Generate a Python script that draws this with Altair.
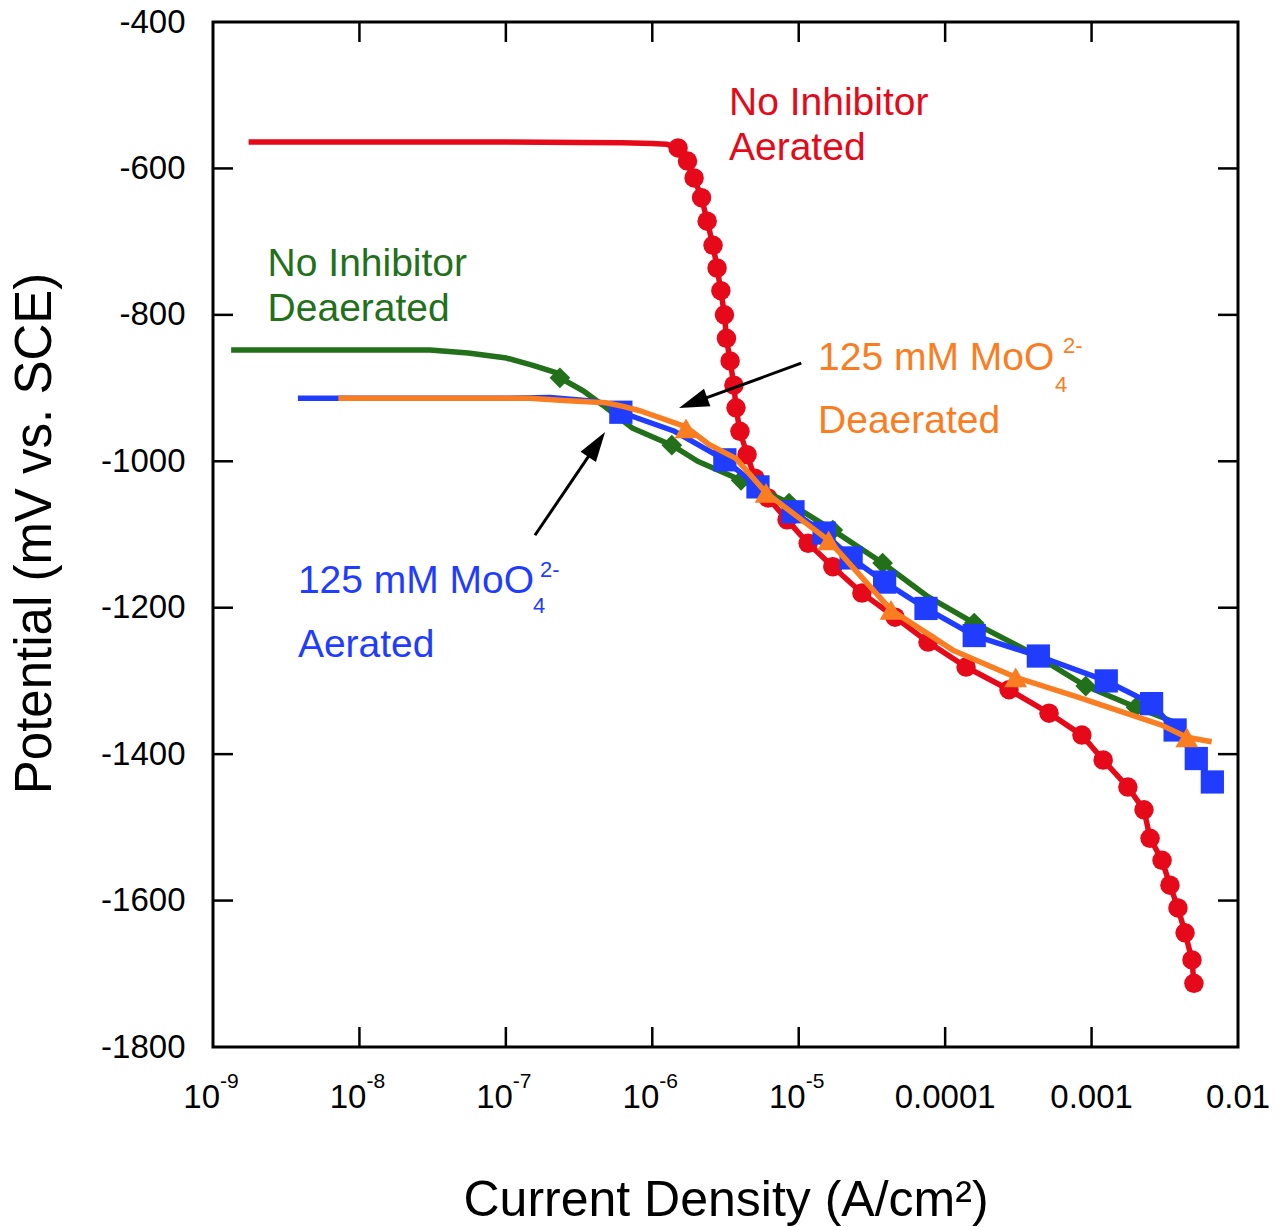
import altair as alt
import pandas as pd

FONT = "Liberation Sans"
RED = "#e5091a"
GREEN = "#22701a"
BLUE = "#1f3cff"
ORANGE = "#fa7d22"

# ---- polarization curves: current density (A/cm^2) vs potential (mV vs SCE) ----
# No inhibitor, aerated
red_i = [1.75e-9, 1.0e-7, 3.16e-7, 6.3e-7, 1.0e-6, 1.26e-6, 1.50e-6, 1.74e-6, 1.93e-6,
         2.17e-6, 2.37e-6, 2.60e-6, 2.77e-6, 2.94e-6, 3.11e-6, 3.21e-6, 3.40e-6, 3.61e-6,
         3.73e-6, 3.97e-6, 4.44e-6, 5.02e-6, 6.17e-6, 8.32e-6, 1.16e-5, 1.71e-5, 2.70e-5,
         4.55e-5, 7.64e-5, 1.39e-4, 2.73e-4, 5.12e-4, 8.59e-4, 1.20e-3, 1.77e-3, 2.28e-3,
         2.51e-3, 3.03e-3, 3.43e-3, 3.89e-3, 4.35e-3, 4.85e-3, 5.0e-3]
red_e = [-564, -564, -564.5, -565, -566, -567, -572, -590, -613,
         -640, -672, -705, -736, -767, -800, -832, -863, -896,
         -927, -959, -991, -1023, -1050, -1080, -1112, -1144, -1180,
         -1213, -1247, -1281, -1312, -1344, -1374, -1408, -1445, -1476,
         -1515, -1545, -1579, -1610, -1644, -1681, -1713]
red_mark_i = red_i[6:]
red_mark_e = red_e[6:]

# No inhibitor, deaerated
green_i = [1.33e-9, 3.03e-8, 5.53e-8, 1.01e-7, 1.53e-7, 2.20e-7, 2.49e-7, 3.39e-7, 4.57e-7,
           7.35e-7, 1.36e-6, 2.04e-6, 4.04e-6, 8.59e-6, 1.71e-5, 3.74e-5, 7.64e-5, 1.58e-4,
           3.92e-4, 9.12e-4, 2.01e-3, 3.55e-3]
green_e = [-848, -848, -852, -859, -869, -879, -889, -904, -923,
           -955, -978, -1000, -1026, -1057, -1094, -1139, -1185, -1221,
           -1262, -1307, -1336, -1355]
green_mark_i = [2.34e-7, 1.36e-6, 4.04e-6, 8.59e-6, 1.71e-5, 3.74e-5, 1.58e-4, 9.12e-4, 2.01e-3]
green_mark_e = [-886, -978, -1026, -1057, -1094, -1139, -1221, -1307, -1336]

# 125 mM molybdate, aerated
blue_i = [3.80e-9, 1.0e-7, 2.0e-7, 3.98e-7, 5.62e-7, 6.10e-7, 1.42e-6, 3.13e-6, 5.27e-6,
          9.14e-6, 1.49e-5, 2.28e-5, 3.86e-5, 7.40e-5, 1.58e-4, 4.33e-4, 1.26e-3, 2.57e-3,
          3.72e-3, 5.19e-3, 6.68e-3, 7.29e-3]
blue_e = [-914, -914, -913, -918, -924, -933, -959, -998, -1035,
          -1069, -1098, -1132, -1165, -1201, -1238, -1266, -1300, -1331,
          -1367, -1406, -1438, -1449]
blue_mark_i = [6.10e-7, 3.13e-6, 5.27e-6, 9.14e-6, 1.49e-5, 2.28e-5, 3.86e-5, 7.40e-5,
               1.58e-4, 4.33e-4, 1.26e-3, 2.57e-3, 3.72e-3, 5.19e-3, 6.68e-3]
blue_mark_e = [-933, -998, -1035, -1069, -1098, -1132, -1165, -1201,
               -1238, -1266, -1300, -1331, -1367, -1406, -1438]

# 125 mM molybdate, deaerated
orange_i = [7.18e-9, 1.45e-7, 2.51e-7, 4.83e-7, 6.31e-7, 8.24e-7, 1.70e-6, 2.44e-6, 3.72e-6,
            5.98e-6, 1.60e-5, 4.27e-5, 1.13e-4, 3.03e-4, 8.07e-4, 2.98e-3, 4.47e-3, 6.61e-3]
orange_e = [-914, -914, -917, -920, -925, -931, -953, -977, -996,
            -1043, -1108, -1203, -1258, -1295, -1322, -1360, -1377, -1383]
orange_mark_i = [1.70e-6, 5.98e-6, 1.60e-5, 4.27e-5, 3.03e-4, 4.47e-3]
orange_mark_e = [-955, -1043, -1108, -1203, -1295, -1377]

# ---- axis ticks ----
y_ticks = [-400, -600, -800, -1000, -1200, -1400, -1600, -1800]
y_inner_ticks = [-600, -800, -1000, -1200, -1400, -1600]
x_ticks = [1e-9, 1e-8, 1e-7, 1e-6, 1e-5, 1e-4, 1e-3, 1e-2]
x_inner_ticks = [1e-8, 1e-7, 1e-6, 1e-5, 1e-4, 1e-3]
x_pow_base = ["10", "10", "10", "10", "10"]
x_pow_exp = ["-9", "-8", "-7", "-6", "-5"]
x_dec_labels = ["0.0001", "0.001", "0.01"]

# ---- annotations ----
label_text = ["No Inhibitor", "Aerated", "No Inhibitor", "Deaerated",
              "125 mM MoO", "Deaerated", "125 mM MoO", "Aerated"]
label_i = [3.34e-6, 3.34e-6, 2.36e-9, 2.36e-9, 1.355e-5, 1.355e-5, 3.80e-9, 3.80e-9]
label_e = [-527, -589, -747, -808, -875, -961, -1180, -1267]
label_color = [RED, RED, GREEN, GREEN, ORANGE, ORANGE, BLUE, BLUE]

script_text = ["4", "2-", "4", "2-"]
script_i = [5.62e-4, 6.38e-4, 1.53e-7, 1.71e-7]
script_e = [-905, -852, -1207, -1158]
script_color = [ORANGE, ORANGE, BLUE, BLUE]

# arrows: tail point, head centre point, head rotation
arrow_i = [1.04e-5, 1.58e-7]
arrow_e = [-866, -1101]
arrow_head_i = [1.90e-6, 4.17e-7]
arrow_head_e = [-920, -977]
arrow_angle = [249.8, 34.2]

W, H = 1025, 1025

x_scale = alt.Scale(type="log", domain=[1e-9, 1e-2], nice=False)
y_scale = alt.Scale(domain=[-1800, -400], nice=False, zero=False)

x_axis = alt.Axis(labels=False, ticks=False, domain=False, grid=False,
                  title="Current Density (A/cm²)", titleFont=FONT, titleFontSize=50,
                  titleFontWeight="normal", titleColor="black", titleX=W / 2, titleY=168,
                  titleAlign="center", titleBaseline="alphabetic")
y_axis = alt.Axis(values=y_ticks, ticks=False, domain=False, grid=False,
                  labelExpr="'' + datum.value", labelFont=FONT, labelFontSize=33,
                  labelColor="black", labelPadding=28,
                  title="Potential (mV vs. SCE)", titleFont=FONT, titleFontSize=51,
                  titleFontWeight="normal", titleColor="black", titleAngle=270,
                  titleX=-163, titleY=511, titleAlign="center", titleBaseline="alphabetic")


def X(field="i"):
    return alt.X(f"{field}:Q", scale=x_scale, axis=x_axis)


def Y(field="e"):
    return alt.Y(f"{field}:Q", scale=y_scale, axis=y_axis)


def curve(i, e, mi, me, color, shape, size):
    line = alt.Chart(pd.DataFrame({"i": i, "e": e})).mark_line(
        color=color, strokeWidth=5.5, strokeJoin="round", clip=True
    ).encode(x=X(), y=Y(), order=alt.Order("i:Q"))
    pts = alt.Chart(pd.DataFrame({"i": mi, "e": me})).mark_point(
        shape=shape, size=size, filled=True, color=color, opacity=1
    ).encode(x=X(), y=Y())
    return line + pts


red = curve(red_i, red_e, red_mark_i, red_mark_e, RED, "circle", 380)
green = curve(green_i, green_e, green_mark_i, green_mark_e, GREEN, "diamond", 430)
blue = curve(blue_i, blue_e, blue_mark_i, blue_mark_e, BLUE, "square", 540)
orange = curve(orange_i, orange_e, orange_mark_i, orange_mark_e, ORANGE, "triangle-up", 520)

# inward ticks on all four sides
xt = pd.DataFrame({"i": x_inner_ticks})
yt = pd.DataFrame({"e": y_inner_ticks})
tick_style = dict(color="black", strokeWidth=2.5)
ticks = (
    alt.Chart(xt).mark_rule(**tick_style).encode(x=X(), y=alt.value(H), y2=alt.value(H - 20))
    + alt.Chart(xt).mark_rule(**tick_style).encode(x=X(), y=alt.value(0), y2=alt.value(20))
    + alt.Chart(yt).mark_rule(**tick_style).encode(y=Y(), x=alt.value(0), x2=alt.value(20))
    + alt.Chart(yt).mark_rule(**tick_style).encode(y=Y(), x=alt.value(W - 20), x2=alt.value(W))
)

# x tick labels: powers of ten with raised exponents, then plain decimals
pow_df = pd.DataFrame({"i": x_ticks[:5], "base": x_pow_base, "exp": x_pow_exp})
dec_df = pd.DataFrame({"i": x_ticks[5:], "lab": x_dec_labels})
xlabels = (
    alt.Chart(pow_df).mark_text(font=FONT, fontSize=33, align="right", baseline="alphabetic",
                                dx=7, color="black")
    .encode(x=X(), y=alt.value(1086), text="base:N")
    + alt.Chart(pow_df).mark_text(font=FONT, fontSize=21, align="left", baseline="alphabetic",
                                  dx=7, color="black")
    .encode(x=X(), y=alt.value(1066), text="exp:N")
    + alt.Chart(dec_df).mark_text(font=FONT, fontSize=33, align="center", baseline="alphabetic",
                                  color="black")
    .encode(x=X(), y=alt.value(1086), text="lab:N")
)

# curve labels
lab_df = pd.DataFrame({"i": label_i, "e": label_e, "t": label_text, "c": label_color})
scr_df = pd.DataFrame({"i": script_i, "e": script_e, "t": script_text, "c": script_color})
labels = (
    alt.Chart(lab_df).mark_text(font=FONT, fontSize=39, align="left", baseline="alphabetic")
    .encode(x=X(), y=Y(), text="t:N", color=alt.Color("c:N", scale=None))
    + alt.Chart(scr_df).mark_text(font=FONT, fontSize=22, align="left", baseline="alphabetic")
    .encode(x=X(), y=Y(), text="t:N", color=alt.Color("c:N", scale=None))
)

# arrows
arr_df = pd.DataFrame({"i": arrow_i, "e": arrow_e, "i2": arrow_head_i, "e2": arrow_head_e})
head_df = pd.DataFrame({"i": arrow_head_i, "e": arrow_head_e, "a": arrow_angle})
arrows = (
    alt.Chart(arr_df).mark_rule(color="black", strokeWidth=3)
    .encode(x=X(), y=Y(), x2="i2:Q", y2="e2:Q")
    + alt.Chart(head_df).mark_point(shape="M0,-1L-0.62,1L0.62,1Z", size=900, filled=True,
                                    color="black", opacity=1)
    .encode(x=X(), y=Y(), angle=alt.Angle("a:Q", scale=None))
)

chart = alt.layer(
    ticks, red, green, blue, orange, arrows, labels, xlabels
).properties(
    width=W, height=H,
    padding={"left": 213, "top": 22, "right": 42, "bottom": 180},
    autosize=alt.AutoSizeParams(type="none"),
    background="white",
).configure_view(stroke="black", strokeWidth=3)

chart.save("out.html", embed_options={"renderer": "svg", "actions": False})
